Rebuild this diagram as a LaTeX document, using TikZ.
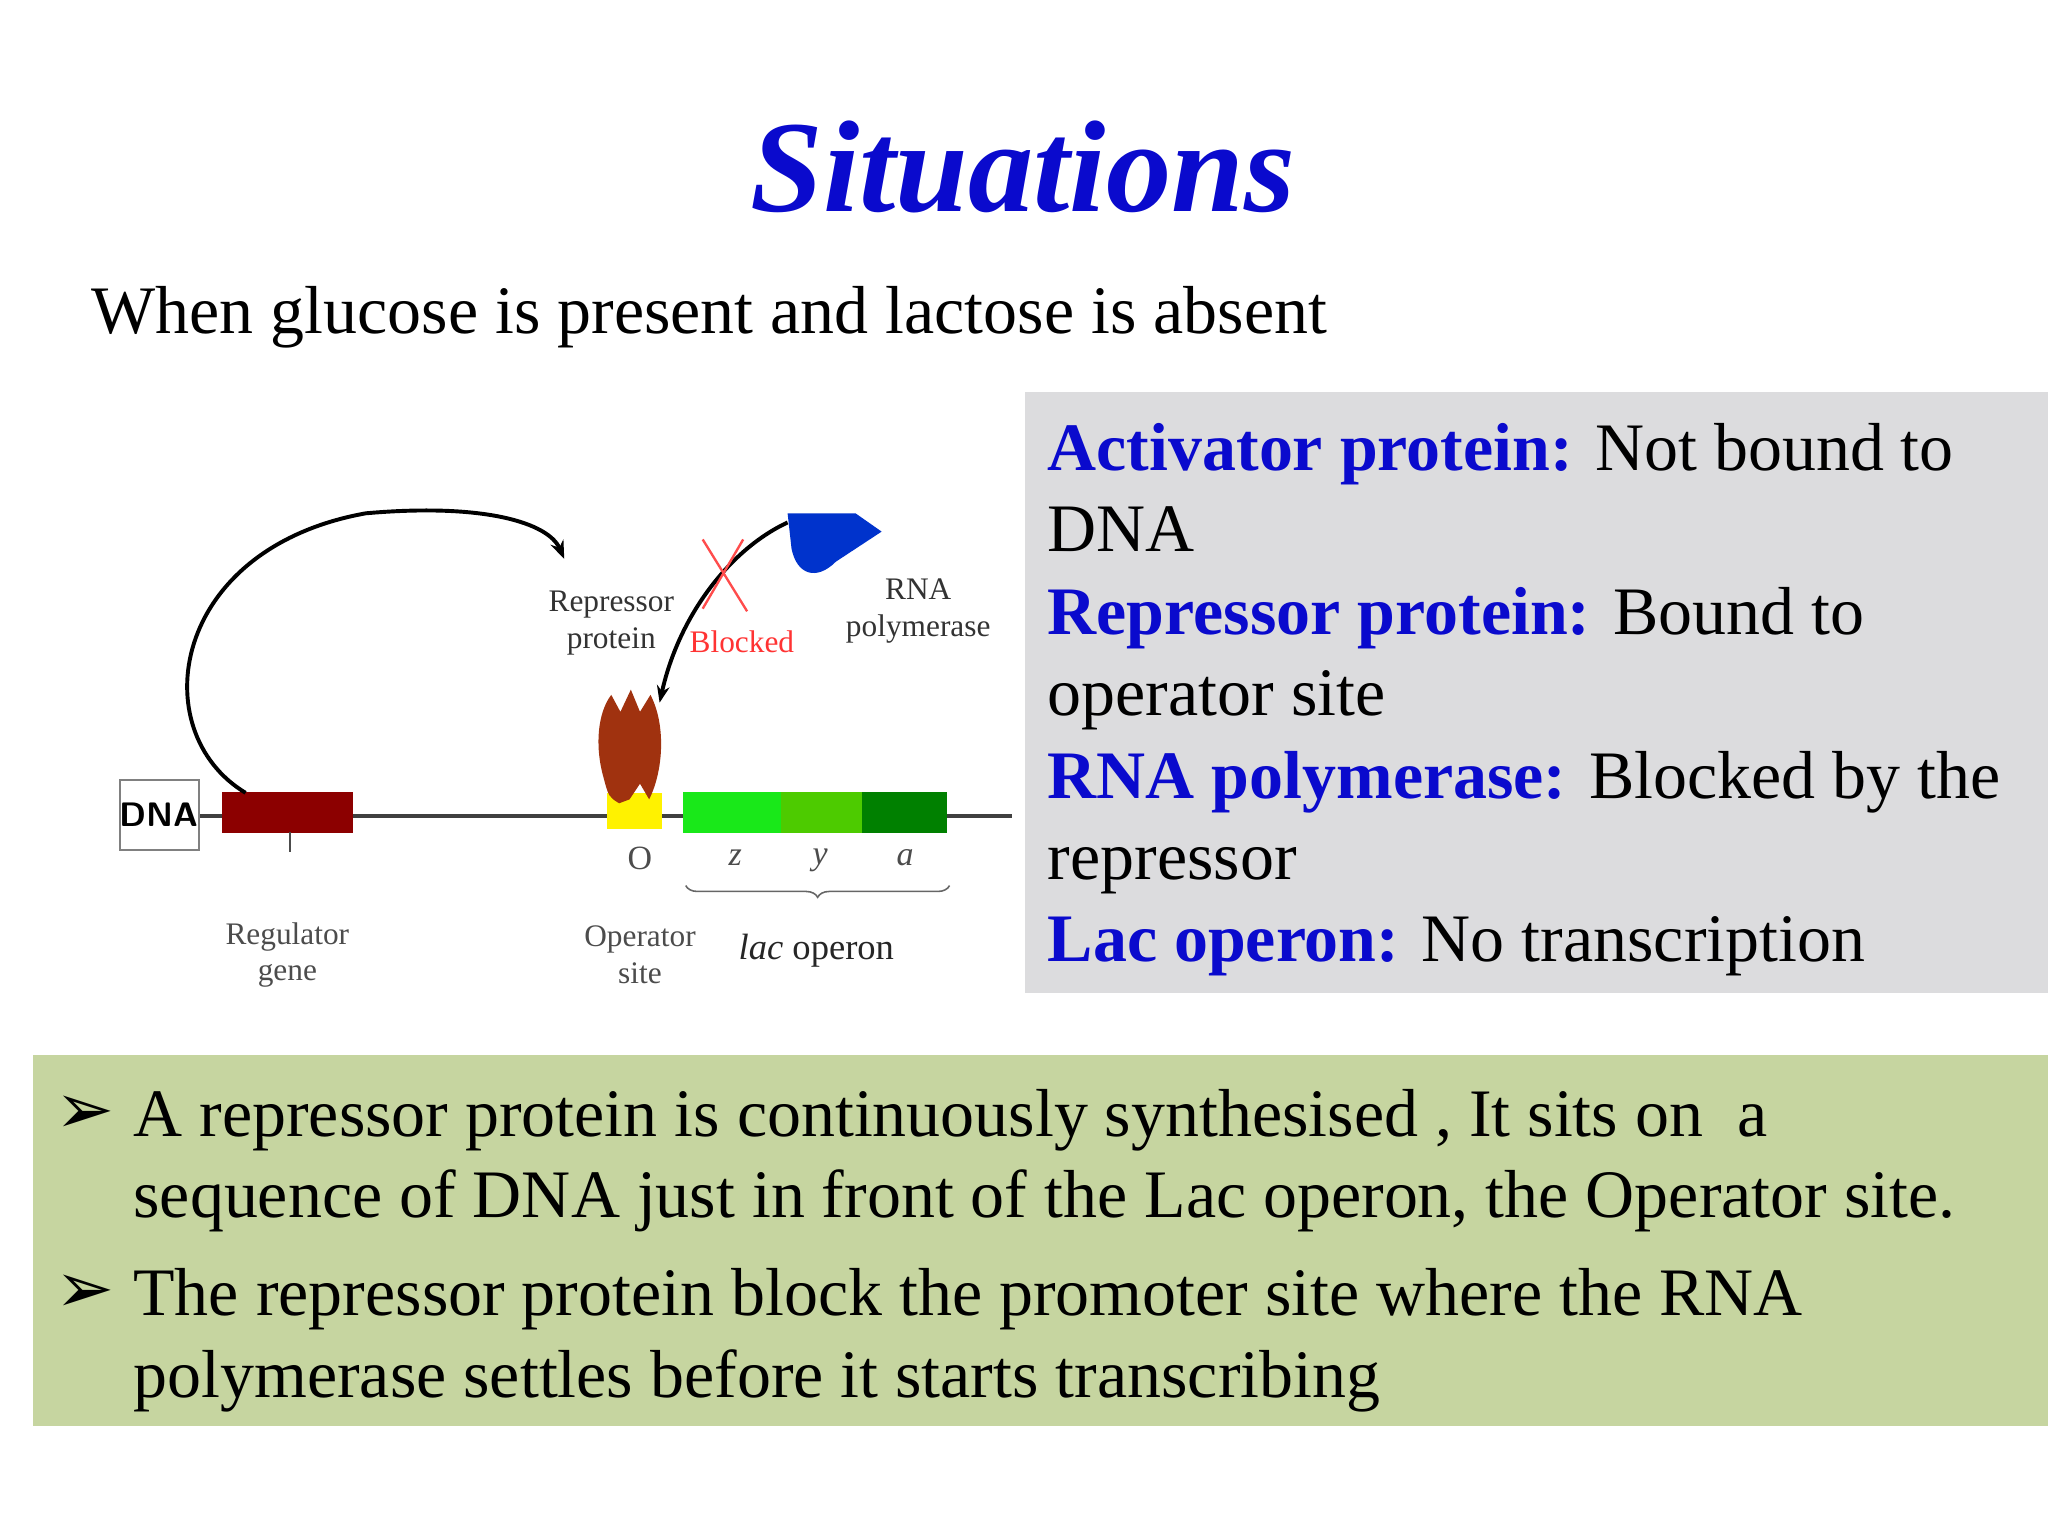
\documentclass[tikz,border=0pt]{standalone}
\usepackage{fontspec}
\setmainfont{Liberation Serif}
\newfontfamily\symfont{DejaVu Sans}
\usetikzlibrary{decorations.pathreplacing,arrows.meta}
\definecolor{tblue}{RGB}{10,10,205}
\definecolor{greybox}{RGB}{220,220,222}
\definecolor{greenbox}{RGB}{198,213,160}
\definecolor{repcol}{RGB}{160,50,15}
\tikzset{
 big/.style={font=\fontsize{52}{60}\selectfont,anchor=base west,inner sep=0},
 small/.style={font=\fontsize{24}{28}\selectfont,inner sep=0,align=center,text=black!70},
 gene/.style={minimum height=31pt,inner sep=0,draw=none}
}
\begin{document}
\begin{tikzpicture}[x=1pt,y=-1pt]
\useasboundingbox (0,0) rectangle (1568,1176);
\fill[white] (0,0) rectangle (1568,1176);
\node[font=\fontsize{100}{110}\selectfont\bfseries\itshape,text=tblue,anchor=base] (title) at (783,162) {Situations};
\node[big] (sub) at (70,255) {When glucose is present and lactose is absent};
% grey box
\fill[greybox] (785,300) rectangle (1568,760);
\node[big] (g1) at (802,360) {\textcolor{tblue}{\bfseries Activator protein:} Not bound to};
\node[big] (g2) at (802,422) {DNA};
\node[big] (g3) at (802,486) {\textcolor{tblue}{\bfseries Repressor protein:} Bound to};
\node[big] (g4) at (802,548) {operator site};
\node[big] (g5) at (802,611) {\textcolor{tblue}{\bfseries RNA polymerase:} Blocked by the};
\node[big] (g6) at (802,673) {repressor};
\node[big] (g7) at (802,736) {\textcolor{tblue}{\bfseries Lac operon:} No transcription};
% green box
\fill[greenbox] (25,808) rectangle (1568,1092);
\node[big,font=\symfont\fontsize{54}{60}\selectfont] (b1) at (42,868) {➢};
\node[big,font=\symfont\fontsize{54}{60}\selectfont] (b2) at (42,1005) {➢};
\node[big] (t1) at (102,870) {A repressor protein is continuously synthesised , It sits on~~a};
\node[big] (t2) at (102,932) {sequence of DNA just in front of the Lac operon, the Operator site.};
\node[big] (t3) at (102,1007) {The repressor protein block the promoter site where the RNA};
\node[big] (t4) at (102,1070) {polymerase settles before it starts transcribing};
% diagram
\draw[line width=3pt,black!75] (150,625) -- (775,625);
\node[draw=black!50,line width=1.5pt,fill=white,minimum width=60pt,minimum height=54pt,inner sep=0,font=\sffamily\bfseries\fontsize{26}{30}\selectfont] (dna) at (122,624) {DNA};
\node[gene,fill=red!55!black,minimum width=100pt] (reg) at (220,622) {};
\draw[black!70,line width=1.5pt] (222,637) -- (222,652);
\node[gene,fill=yellow,minimum width=42pt,minimum height=28pt] (op) at (486,621) {};
\fill[repcol] (462,595) .. controls (455,570) and (458,545) .. (468,532) -- (475,545) -- (483,528) -- (490,545) -- (498,532) .. controls (510,555) and (508,590) .. (497,612) -- (490,600) -- (482,612) -- (474,615) .. controls (466,610) .. (462,595);
\node[gene,fill=green!90!black!90!white,minimum width=75pt] (z) at (560.5,622) {};
\node[gene,fill=green!55!olive!90!yellow,minimum width=62pt] (y) at (629,622) {};
\node[gene,fill=green!50!black,minimum width=65pt] (a) at (692.5,622) {};
\node[small,font=\fontsize{26}{30}\selectfont] (lo) at (490,657) {O};
\node[small,font=\itshape\fontsize{26}{30}\selectfont] (lz) at (563,657) {z};
\node[small,font=\itshape\fontsize{26}{30}\selectfont] (ly) at (628,659) {y};
\node[small,font=\itshape\fontsize{26}{30}\selectfont] (la) at (693,657) {a};
\draw[black!60,line width=1.2pt,decorate,decoration={brace,amplitude=9pt,mirror}] (525,678) -- (727,678);
\node[small] (reglab) at (220,731) {Regulator\\gene};
\node[small] (oplab) at (490,731) {Operator\\site};
\node[small,text=black!85,font=\fontsize{28}{32}\selectfont] (lac) at (625,728) {\itshape lac\upshape\ operon};
\node[small,text=black!80] (rep) at (468,477) {Repressor\\protein};
\node[small,text=red!80] (blk) at (568,491) {Blocked};
\node[small,text=black!80] (rnap) at (703,468) {RNA\\polymerase};
% polymerase blob
\begin{scope}
\clip (580,393) rectangle (700,460);
\fill[blue!75!cyan!80!black] (603,393) -- (606,420) .. controls (610,440) and (625,445) .. (640,430) -- (675,407) -- (655,393) -- cycle;
\end{scope}
\coordinate (pol) at (603,400);
\coordinate (arr1s) at (188,607);
\coordinate (arr1e) at (432,428);
\draw[line width=3pt,-{Stealth[length=14pt]}] (arr1s) .. controls (110,560) and (130,420) .. (280,393) .. controls (370,385) and (420,400) .. (arr1e);
\draw[line width=3pt,-{Stealth[length=13pt]}] (pol) .. controls (560,420) and (520,470) .. (505,538);
\draw[red!70,line width=1.8pt] (538,413) -- (572,468) (569,413) -- (538,466);
\end{tikzpicture}
\end{document}
